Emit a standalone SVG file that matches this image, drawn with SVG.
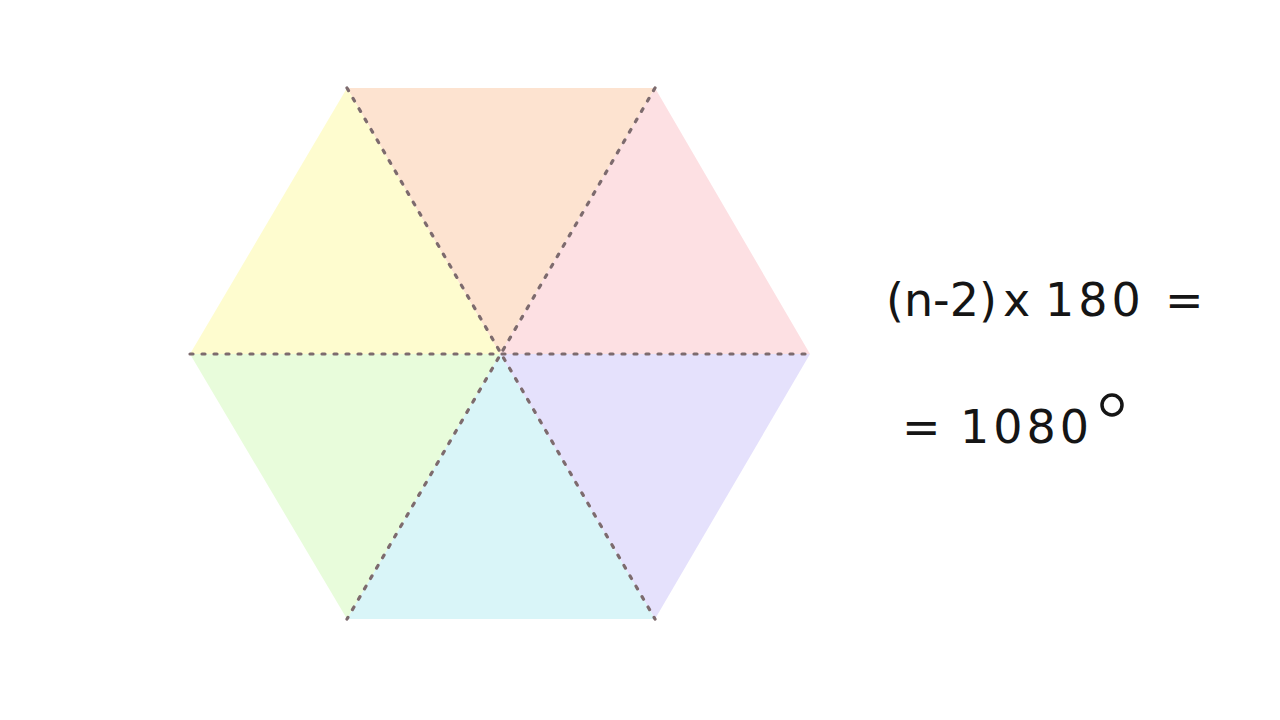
<svg xmlns="http://www.w3.org/2000/svg" width="1280" height="720" viewBox="0 0 1280 720">
<style>
.tri{stroke:none}
.dot{stroke:#7d6b6e;stroke-width:3.2;stroke-dasharray:3 9;stroke-linecap:round;fill:none}
.t{font-family:"DejaVu Sans","Open Sans",sans-serif;font-size:46px;fill:#151515}
</style>
<rect width="1280" height="720" fill="#ffffff"/>
<g id="hexagon">
<polygon class="tri" points="347,88 655,88 500,354" fill="#fde3d0"/>
<polygon class="tri" points="655,88 810,354 500,354" fill="#fde0e3"/>
<polygon class="tri" points="810,354 655,619 500,354" fill="#e5e1fc"/>
<polygon class="tri" points="655,619 347,619 500,354" fill="#d9f5f8"/>
<polygon class="tri" points="347,619 190,354 500,354" fill="#e8fcdb"/>
<polygon class="tri" points="190,354 347,88 500,354" fill="#fefccf"/>
</g>
<g id="connectors">
<line class="dot" x1="347" y1="88" x2="655" y2="619"/>
<line class="dot" x1="655" y1="88" x2="347" y2="619"/>
<line class="dot" x1="190" y1="354" x2="810" y2="354"/>
</g>
<g id="formula">
<text class="t" x="886" y="316">(n-2)</text>
<text class="t" x="1003" y="316" font-size="40">x</text>
<text class="t" x="1045" y="316" letter-spacing="4">180</text>
<text class="t" x="1165" y="316">=</text>
<text class="t" x="902" y="443">=</text>
<text class="t" x="960" y="443" letter-spacing="4">1080</text>
<circle cx="1112" cy="405" r="10" fill="none" stroke="#151515" stroke-width="3.5"/>
</g>
</svg>
